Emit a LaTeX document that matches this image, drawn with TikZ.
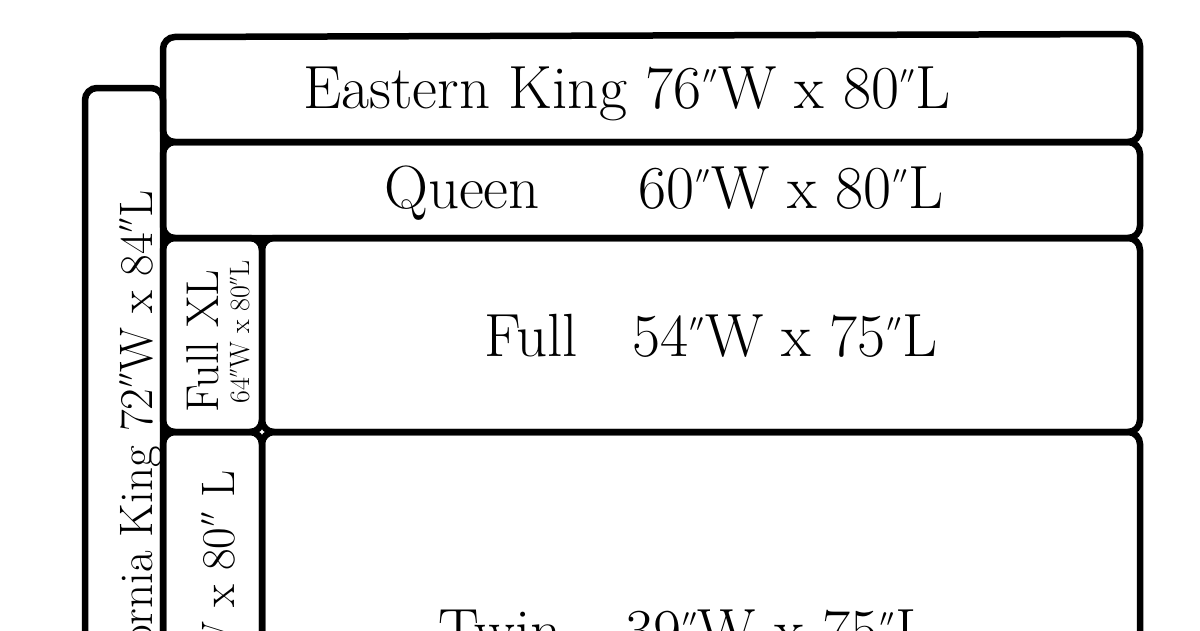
\documentclass[tikz,border=0pt]{standalone}
\newcommand\inchmark{\kern0.02em\raisebox{0.40em}{$\scriptscriptstyle\prime\prime$}\kern0.03em}
\tikzset{
  bed/.style={draw=black, line width=6.5pt, rounded corners=12pt},
  bigtext/.style={font=\fontsize{61}{63}\selectfont, inner sep=0pt},
  sidetext/.style={font=\fontsize{47}{49}\selectfont, inner sep=0pt},
  xltext/.style={font=\fontsize{46}{48}\selectfont, inner sep=0pt},
  smalltext/.style={font=\fontsize{28}{30}\selectfont, inner sep=0pt}
}
\begin{document}
\begin{tikzpicture}[x=1pt,y=-1pt]
\path[use as bounding box] (0,0) rectangle (1200,630);
\clip (0,0) rectangle (1200,630);
\fill[white] (0,0) rectangle (1200,630);
% boxes
\draw[bed] (163,720) -- (163,88) -- (85,88) -- (85,720);
\draw[bed] (163,142) -- (163,37) -- (1140,34) -- (1140,142) -- cycle;
\draw[bed] (163,142) rectangle (1140,238);
\draw[bed] (163,238) rectangle (262,432);
\draw[bed] (262,238) rectangle (1140,432);
\draw[bed] (163,432) rectangle (262,720);
\draw[bed] (262,432) rectangle (1140,720);
% labels
\node[bigtext, anchor=base] (ek) at (627,108) {Eastern King 76\inchmark W x 80\inchmark L};
\node[bigtext, anchor=base] (queen) at (462,208) {Queen};
\node[bigtext, anchor=base] (queendim) at (791,208) {60\inchmark W x 80\inchmark L};
\node[bigtext, anchor=base] (full) at (531,356) {Full};
\node[bigtext, anchor=base] (fulldim) at (785,356) {54\inchmark W x 75\inchmark L};
\node[bigtext, anchor=base west] (twin) at (438,651) {Twin};
\node[bigtext, anchor=base west] (twindim) at (625,651) {39\inchmark W x 75\inchmark L};
\node[xltext, anchor=base, rotate=90] (fullxl) at (218,341) {Full XL};
\node[smalltext, anchor=base, rotate=90] (fullxldim) at (249,332) {64\inchmark W x 80\inchmark L};
\node[sidetext, anchor=base east, rotate=90] (calking) at (152,190) {California King 72\inchmark W x 84\inchmark L};
\node[sidetext, anchor=base east, rotate=90] (twinxl) at (234,470) {Twin XL 39\inchmark W x 80\inchmark{} L};
\end{tikzpicture}
\end{document}
